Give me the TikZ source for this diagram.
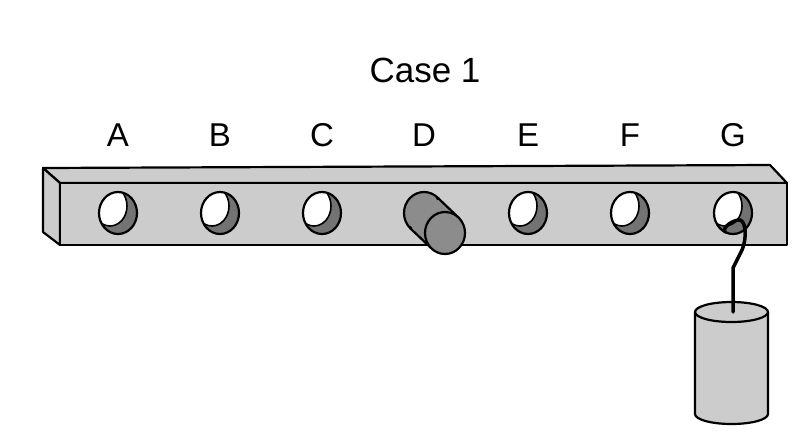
\documentclass[tikz,border=0pt]{standalone}
\usepackage{fontspec}
\setmainfont{Liberation Sans}
\usetikzlibrary{calc}
\begin{document}
\begin{tikzpicture}[x=1pt,y=-1pt,line width=2.2pt,line join=round,
  lab/.style={font=\fontsize{33}{35}\selectfont,inner sep=0pt}]
\useasboundingbox (0,0) rectangle (802,437);
\definecolor{lg}{gray}{0.8}\definecolor{dg}{gray}{0.45}\definecolor{mg}{gray}{0.55}
\node[lab,font=\fontsize{35}{37}\selectfont] (title) at (425,70) {Case 1};
% bar
\draw[fill=lg] (43,168) -- (770,165) -- (787,183) -- (60,183) -- cycle;
\draw[fill=lg] (43,168) -- (60,183) -- (60,245) -- (43,232) -- cycle;
\draw[fill=lg] (60,183) rectangle (787,245);
\foreach \n/\x in {A/118,B/220,C/322,D/424,E/528,F/630,G/733}{
  \node[lab] (l\n) at (\x,135) {\n};
}
\foreach \x in {118,220,322,528,630,733}{
  \fill[dg] (\x,213) ellipse (19 and 21);
  \begin{scope}\clip (\x,213) ellipse (19 and 21);
  \fill[white] (\x-8,206) ellipse (17 and 20);
  \draw[line width=1.6pt] (\x-8,206) ellipse (17 and 20);
  \end{scope}
  \draw (\x,213) ellipse (19 and 21);
}
% peg at D
\draw[fill=mg] (424,213) ellipse (20 and 21);
\draw[fill=mg] ($(424,213)+(-14,15)$) -- ($(445,233)+(-14,15)$) -- ($(445,233)+(14,-15)$) -- ($(424,213)+(14,-15)$) -- cycle;
\fill[mg] (424,213) ellipse (18 and 19);
\draw[fill=mg] (445,233) ellipse (20 and 21);
% weight
\draw[fill=lg] (695,312) -- (695,414) arc[start angle=180,end angle=0,x radius=36.5,y radius=10] -- (768,312);
\draw[fill=lg] (731.5,312) ellipse (36.5 and 10);
\draw[line width=3.5pt,line cap=round] (733,312) -- (733,268) -- (742,250) .. controls (748,235) and (745,218) .. (738,220) .. controls (728,222) and (722,230) .. (725,232);
\end{tikzpicture}
\end{document}
